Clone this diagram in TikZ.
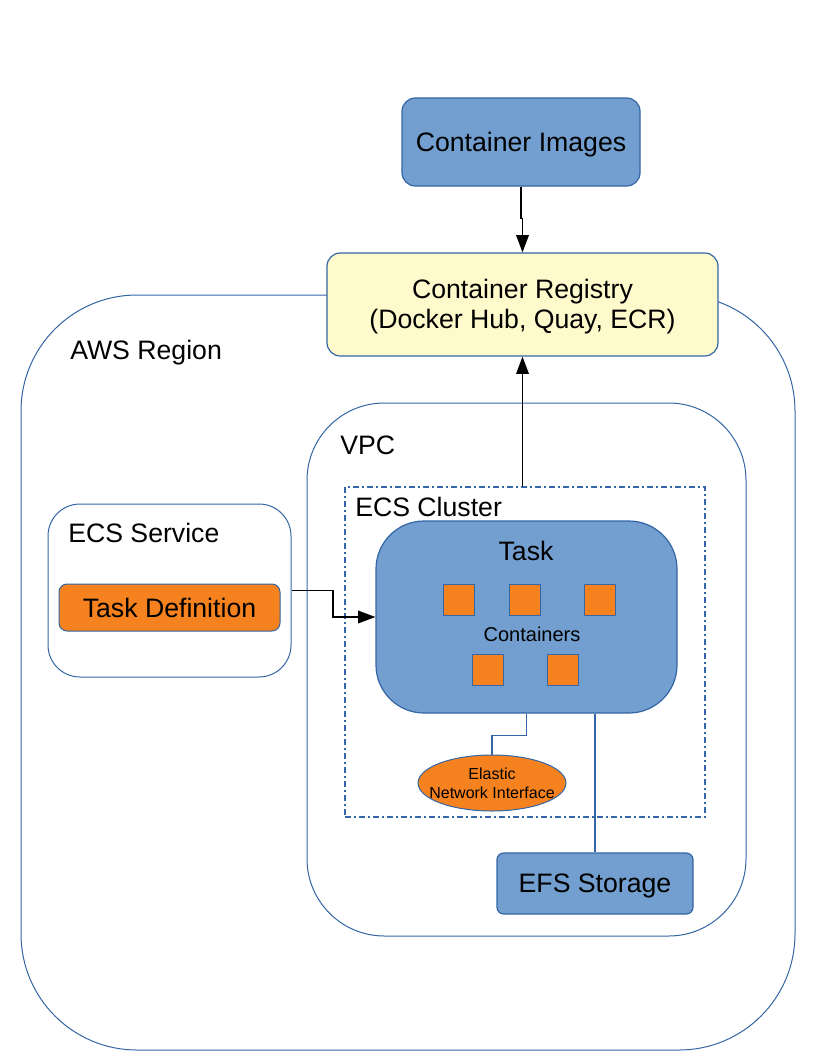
\documentclass[tikz,border=0pt]{standalone}
\usepackage{fontspec}
\setmainfont{Liberation Sans}
\usetikzlibrary{fit,arrows.meta,shapes.geometric}
\definecolor{bfill}{HTML}{729FCF}
\definecolor{bline}{HTML}{3465A4}
\definecolor{ofill}{HTML}{F5821F}
\definecolor{yfill}{HTML}{FFFACC}
\tikzset{
  frame/.style={draw=bline, line width=0.75pt, inner sep=0pt},
  bluebox/.style={draw=bline, fill=bfill, line width=0.9pt, inner sep=0pt},
  orangebox/.style={draw=bline, fill=ofill, line width=0.75pt, inner sep=0pt},
  big/.style={font=\fontsize{20}{22.5}\selectfont},
  lbl/.style={big, anchor=west, inner sep=0pt},
  sq/.style={draw=bline, fill=ofill, line width=0.75pt, minimum size=23.25pt, inner sep=0pt},
  arr/.style={draw=black, line width=1pt, -{Triangle[length=13pt,width=9.5pt]}},
  link/.style={draw=bline, line width=0.9pt},
}
\begin{document}
\begin{tikzpicture}[x=0.75pt,y=-0.75pt]
\useasboundingbox (0,0) rectangle (816,1056);
% AWS Region
\node[frame, rounded corners=87pt, fit={(21,295) (795,1050)}] (region) {};
\node[lbl] (regionlbl) at (70,353) {AWS Region};
% Container Images
\node[bluebox, rounded corners=10pt, fit={(402,98) (640,186)}] (ci) {};
\node[big, inner sep=0pt] (citext) at ([yshift=-2.2pt]ci.center) {Container Images};
% Registry
\node[draw=bline, fill=yfill, line width=0.9pt, inner sep=0pt, rounded corners=10pt, fit={(327,253) (718,356)}] (reg) {};
\node[big, align=center, inner sep=0pt] (regtext) at ([yshift=-1.5pt]reg.center) {Container Registry\\(Docker Hub, Quay, ECR)};
% VPC
\node[frame, rounded corners=58pt, fit={(307,403) (746,936)}] (vpc) {};
\node[lbl] (vpclbl) at (340,445) {VPC};
% ECS Service
\node[frame, rounded corners=24pt, fit={(48,504) (291,677)}] (svc) {};
\node[lbl] (svclbl) at (68,533) {ECS Service};
\node[orangebox, rounded corners=6pt, fit={(59,584) (280,631)}] (td) {};
\node[big, inner sep=0pt] (tdtext) at (td.center) {Task Definition};
% ECS Cluster
\node[draw=bline, line width=0.9pt, dash pattern=on 4.5pt off 2.5pt on 1pt off 2.5pt, inner sep=0pt, fit={(345,487) (705,817)}] (cluster) {};
\node[lbl] (clusterlbl) at (355,507) {ECS Cluster};
% Task
\node[bluebox, rounded corners=36pt, fit={(376,521) (677,713)}] (task) {};
\node[big, inner sep=0pt] (tasktext) at (526,551) {Task};
\node[sq] (c1) at (458.5,600) {};
\node[sq] (c2) at (524.5,600) {};
\node[sq] (c3) at (599.5,600) {};
\node[sq] (c4) at (487.5,669.5) {};
\node[sq] (c5) at (562.5,669.5) {};
\node[font=\fontsize{15}{18}\selectfont, inner sep=0pt] (contlbl) at (532,634) {Containers};
% ENI
\node[ellipse, draw=bline, fill=ofill, line width=0.75pt, minimum width=111pt, minimum height=42pt, inner sep=0pt] (eni) at (492,783) {};
\node[align=center, inner sep=0pt, font=\fontsize{12}{14.25}\selectfont] (enitext) at (eni.center) {Elastic\\Network Interface};
% EFS
\node[bluebox, rounded corners=5pt, fit={(497,853) (693,914)}] (efs) {};
\node[big, inner sep=0pt] (efstext) at ([yshift=-2pt]efs.center) {EFS Storage};
% connectors
\coordinate (m1) at (333,0);
\draw[arr] (ci.south) -- ++(0,32) -| (reg.north);
\draw[arr] (cluster.north -| reg.south) -- (reg.south);
\draw[arr] (svc.east) -- (svc.east -| m1) -- (task.west -| m1) -- (task.west);
\draw[link] (task.south) -- ++(0,22) -| (eni.north);
\draw[link] (efs.north |- task.south) -- (efs.north);
\end{tikzpicture}
\end{document}
